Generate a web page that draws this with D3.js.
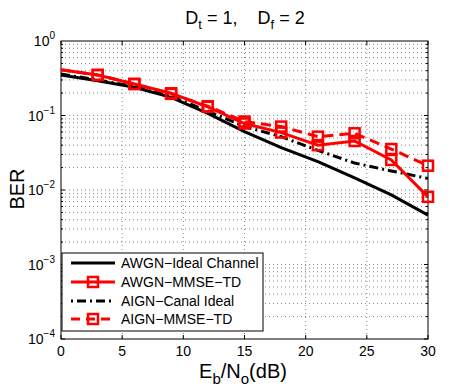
<!DOCTYPE html>
<html><head><meta charset="utf-8">
<script src="https://cdn.jsdelivr.net/npm/d3@7"></script>
<style>body{margin:0;background:#fff;} text{font-family:"Liberation Sans",Arial,sans-serif;white-space:pre;}</style>
</head><body><svg id="c" width="474" height="390"></svg>
<script>
const snr = [0,3,6,9,12,15,18,21,24,27,30];
const awgnIdeal = [0.35,0.293,0.239,0.175,0.107,0.0607,0.037,0.024,0.0145,0.0086,0.0046];
const awgnMmse = [0.41,0.35,0.265,0.199,0.131,0.078,0.059,0.040,0.0455,0.0253,0.0081];
const aignIdeal = [0.36,0.30,0.245,0.18,0.115,0.071,0.052,0.034,0.023,0.018,0.0143];
const aignMmse = [0.41,0.35,0.265,0.195,0.133,0.083,0.071,0.052,0.0577,0.0355,0.0212];
const xTicks = [0,5,10,15,20,25,30];
const yTicks = [1e0,1e-1,1e-2,1e-3,1e-4];
const legendLabels = ["AWGN\u2212Ideal Channel","AWGN\u2212MMSE\u2212TD","AIGN\u2212Canal Ideal","AIGN\u2212MMSE\u2212TD"];

const svg = d3.select("#c");
const L=61,R=428,T=41,B=339;
const x = d3.scaleLinear().domain([0,30]).range([L,R]);
const y = d3.scaleLog().domain([1e-4,1]).range([B,T]);

// grid
const g = svg.append("g");
xTicks.slice(1,-1).forEach(v=>{
  g.append("line").attr("x1",x(v)).attr("x2",x(v)).attr("y1",T).attr("y2",B)
   .attr("stroke","#888").attr("stroke-width",1).attr("stroke-dasharray","1,3");
});
for(let e=-4;e<0;e++){
  for(let m=1;m<10;m++){
    const v=m*Math.pow(10,e);
    if(m===1 && e===-4) continue;
    g.append("line").attr("x1",L).attr("x2",R).attr("y1",y(v)).attr("y2",y(v))
     .attr("stroke","#888").attr("stroke-width",1).attr("stroke-dasharray","1,3");
  }
}
// ticks inside
xTicks.forEach(v=>{
  svg.append("line").attr("x1",x(v)).attr("x2",x(v)).attr("y1",B).attr("y2",B-4).attr("stroke","#000");
  svg.append("line").attr("x1",x(v)).attr("x2",x(v)).attr("y1",T).attr("y2",T+4).attr("stroke","#000");
});
for(let e=-4;e<0;e++){
  for(let m=1;m<10;m++){
    const v=m*Math.pow(10,e), len = m===1?4:2;
    svg.append("line").attr("x1",L).attr("x2",L+len).attr("y1",y(v)).attr("y2",y(v)).attr("stroke","#000");
    svg.append("line").attr("x1",R).attr("x2",R-len).attr("y1",y(v)).attr("y2",y(v)).attr("stroke","#000");
  }
}
svg.append("rect").attr("x",L).attr("y",T).attr("width",R-L).attr("height",B-T)
  .attr("fill","none").attr("stroke","#000").attr("stroke-width",1);

// tick labels
svg.selectAll(".xt").data(xTicks).enter().append("text")
  .attr("x",d=>x(d)).attr("y",B+17).attr("text-anchor","middle")
  .attr("font-size",14).text(d=>d);
yTicks.forEach(v=>{
  const e = Math.round(Math.log10(v));
  const t = svg.append("text").attr("x",L-6).attr("y",y(v)+5).attr("text-anchor","end").attr("font-size",14);
  t.append("tspan").text("10");
  t.append("tspan").attr("dy",-7).attr("font-size",10).text(e===0?"0":"\u2212"+(-e));
});

// title
const title = svg.append("text").attr("x",245).attr("y",24).attr("text-anchor","middle").attr("font-size",18);
title.append("tspan").text("D");
title.append("tspan").attr("dy",5).attr("font-size",13).text("t");
title.append("tspan").attr("dy",-5).text(" = 1,    D");
title.append("tspan").attr("dy",5).attr("font-size",13).text("f");
title.append("tspan").attr("dy",-5).text(" = 2");

// x label
const xl = svg.append("text").attr("x",243).attr("y",378).attr("text-anchor","middle").attr("font-size",20);
xl.append("tspan").text("E");
xl.append("tspan").attr("dy",6).attr("font-size",15).text("b");
xl.append("tspan").attr("dy",-6).text("/N");
xl.append("tspan").attr("dy",6).attr("font-size",15).text("o");
xl.append("tspan").attr("dy",-6).text("(dB)");

// y label
svg.append("text").attr("transform","translate(24,189) rotate(-90)").attr("text-anchor","middle")
  .attr("font-size",20).text("BER");

// series
const line = d3.line().x((d,i)=>x(snr[i])).y(d=>y(d));
const plot = svg.append("g");
const series = [
  {d:awgnIdeal, c:"#000", dash:null, w:3, mk:false},
  {d:aignIdeal, c:"#000", dash:"9,4,2,4", w:3, mk:false},
  {d:aignMmse, c:"#ff0000", dash:"10,6", w:3, mk:true},
  {d:awgnMmse, c:"#ff0000", dash:null, w:3, mk:true}
];
series.forEach(s=>{
  plot.append("path").datum(s.d).attr("d",line).attr("fill","none")
    .attr("stroke",s.c).attr("stroke-width",s.w).attr("stroke-dasharray",s.dash);
  if(s.mk){
    plot.selectAll(null).data(s.d.slice(1)).enter().append("rect")
      .attr("x",(d,i)=>x(snr[i+1])-5).attr("y",d=>y(d)-5).attr("width",10).attr("height",10)
      .attr("fill","none").attr("stroke",s.c).attr("stroke-width",2.5);
  }
});

// legend
const lg = svg.append("g");
lg.append("rect").attr("x",62).attr("y",253).attr("width",201).attr("height",78)
  .attr("fill","#fff").attr("stroke","#000").attr("stroke-width",1);
const lspec = [
  {c:"#000",dash:null,mk:false},
  {c:"#ff0000",dash:null,mk:true},
  {c:"#000",dash:"2,4,9,4",mk:false},
  {c:"#ff0000",dash:"9,6",mk:true}
];
const rows=[263,282,301,319];
lspec.forEach((s,i)=>{
  lg.append("line").attr("x1",71).attr("x2",115).attr("y1",rows[i]).attr("y2",rows[i])
    .attr("stroke",s.c).attr("stroke-width",3).attr("stroke-dasharray",s.dash);
  if(s.mk) lg.append("rect").attr("x",88).attr("y",rows[i]-5).attr("width",10).attr("height",10)
    .attr("fill","none").attr("stroke",s.c).attr("stroke-width",2.5);
  lg.append("text").attr("x",121).attr("y",rows[i]+5).attr("font-size",14).text(legendLabels[i]);
});
</script></body></html>
